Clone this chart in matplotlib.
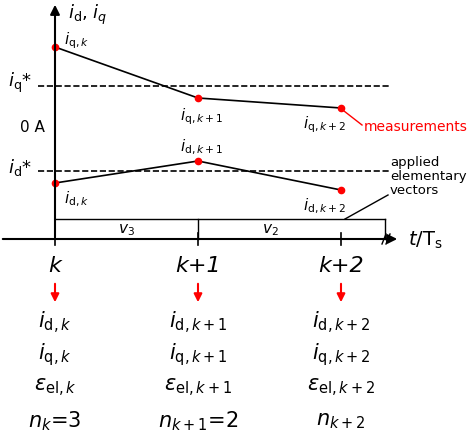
import matplotlib
matplotlib.use("Agg")
import matplotlib.pyplot as plt

ticks_x = [55, 198, 341]
tick_labels = ["k", "k+1", "k+2"]
iq_y = [48, 99, 109]
id_y = [184, 162, 191]
iq_ref = 87
id_ref = 172
rows = [
    [r"$i_{\mathrm{d},k}$", r"$i_{\mathrm{d},k+1}$", r"$i_{\mathrm{d},k+2}$"],
    [r"$i_{\mathrm{q},k}$", r"$i_{\mathrm{q},k+1}$", r"$i_{\mathrm{q},k+2}$"],
    [r"$\varepsilon_{\mathrm{el},k}$", r"$\varepsilon_{\mathrm{el},k+1}$", r"$\varepsilon_{\mathrm{el},k+2}$"],
    [r"$n_k$=3", r"$n_{k+1}$=2", r"$n_{k+2}$"],
]
row_y = [323, 355, 388, 421]

fig = plt.figure(figsize=(4.74, 4.39), dpi=100)
ax = fig.add_axes([0, 0, 1, 1])
ax.set_xlim(0, 474); ax.set_ylim(439, 0); ax.axis("off")
fs = 13

# axes
ax.annotate("", xy=(55, 3), xytext=(55, 241), arrowprops=dict(arrowstyle="-|>", color="k", lw=1.5, mutation_scale=14))
ax.annotate("", xy=(400, 240), xytext=(0, 240), arrowprops=dict(arrowstyle="-|>", color="k", lw=1.5, mutation_scale=14))
ax.plot([382, 386], [245, 235], color="k", lw=1)
ax.plot([386, 390], [245, 235], color="k", lw=1)
ax.text(408, 240, r"$t$/T$_\mathrm{s}$", fontsize=fs+1, va="center", ha="left")
ax.text(68, 15, r"$i_\mathrm{d}$, $i_q$", fontsize=fs, va="center")
for x in ticks_x:
    ax.plot([x, x], [234, 246], color="k", lw=1.2)

# refs
ax.plot([38, 390], [iq_ref]*2, "k--", lw=1.2)
ax.plot([38, 390], [id_ref]*2, "k--", lw=1.2)
ax.text(32, iq_ref-4, r"$i_\mathrm{q}$*", fontsize=fs, ha="right", va="center")
ax.text(32, id_ref-4, r"$i_\mathrm{d}$*", fontsize=fs, ha="right", va="center")
ax.text(45, 128, "0 A", fontsize=fs-2, ha="right", va="center")

ax.plot(ticks_x, iq_y, "k-", lw=1.2)
ax.plot(ticks_x, id_y, "k-", lw=1.2)
ax.plot(ticks_x, iq_y, "o", color="red", ms=4.5)
ax.plot(ticks_x, id_y, "o", color="red", ms=4.5)

ax.text(64, 41, r"$i_{\mathrm{q},k}$", fontsize=fs-2, va="center")
ax.text(180, 117, r"$i_{\mathrm{q},k+1}$", fontsize=fs-2, va="center")
ax.text(303, 125, r"$i_{\mathrm{q},k+2}$", fontsize=fs-2, va="center")
ax.text(180, 147, r"$i_{\mathrm{d},k+1}$", fontsize=fs-2, va="center")
ax.text(64, 199, r"$i_{\mathrm{d},k}$", fontsize=fs-2, va="center")
ax.text(303, 206, r"$i_{\mathrm{d},k+2}$", fontsize=fs-2, va="center")

# vectors box
ax.plot([55, 385], [220, 220], "k-", lw=1)
ax.plot([198, 198], [220, 240], "k-", lw=1)
ax.plot([385, 385], [220, 240], "k-", lw=1)
ax.text(126, 230, r"$v_3$", fontsize=fs-2, ha="center", va="center")
ax.text(270, 230, r"$v_2$", fontsize=fs-2, ha="center", va="center")

ax.plot([344, 362], [112, 126], color="red", lw=1)
ax.text(364, 127, "measurements", color="red", fontsize=fs-3, va="center")
ax.plot([345, 388], [220, 196], "k-", lw=1)
ax.text(390, 197, "applied\nelementary\nvectors", fontsize=fs-3.5, va="bottom", linespacing=1.1)

for x, lab in zip(ticks_x, tick_labels):
    ax.text(x, 266, lab, fontsize=fs+3, ha="center", va="center", style="italic")
    ax.annotate("", xy=(x, 306), xytext=(x, 282), arrowprops=dict(arrowstyle="-|>", color="red", lw=1.5, mutation_scale=12))
for r, y in zip(rows, row_y):
    for x, t in zip(ticks_x, r):
        ax.text(x, y, t, fontsize=fs+2, ha="center", va="center")

fig.savefig("out.png", dpi=100)
